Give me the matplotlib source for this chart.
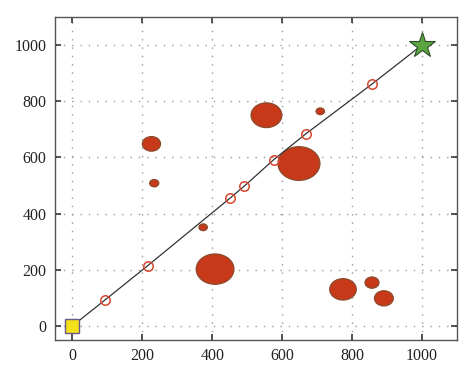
import matplotlib
matplotlib.use('Agg')
import matplotlib.pyplot as plt
from matplotlib.patches import Circle

plt.rcParams['font.family'] = ['Liberation Serif', 'DejaVu Serif']

# obstacles: centre x, centre y, radius (data units)
obs_x = [226, 234, 555, 709, 648, 374, 408, 774, 857, 891]
obs_y = [648, 508, 750, 764, 578, 351, 202, 130, 154, 98]
obs_r = [26, 13, 44, 12, 60, 12, 54, 38, 20, 27]

# planned path (start, waypoints, goal)
path_x = [0, 93, 215, 452, 492, 576, 668, 856, 1000]
path_y = [0, 92, 214, 456, 498, 592, 684, 860, 1000]

ticks = [0, 200, 400, 600, 800, 1000]

fig = plt.figure(figsize=(4.74, 3.76), dpi=100)
ax = fig.add_axes([0.116, 0.096, 0.848, 0.859])

ax.grid(True, color='#999999', linestyle=(0, (1, 5)), linewidth=1.0)
ax.set_axisbelow(True)

for x, y, r in zip(obs_x, obs_y, obs_r):
    ax.add_patch(Circle((x, y), r, facecolor='#c8391a', edgecolor='#8a4a2c',
                        linewidth=0.9, zorder=3))

ax.plot(path_x, path_y, color='#333333', linewidth=0.9, zorder=4)
ax.plot(path_x[1:-1], path_y[1:-1], linestyle='none', marker='o', markersize=6.8,
        markerfacecolor='none', markeredgecolor='#d9462e', markeredgewidth=1.1, zorder=5)
ax.plot(path_x[0], path_y[0], linestyle='none', marker='s', markersize=10,
        markerfacecolor='#f5e11a', markeredgecolor='#6a5a8a', markeredgewidth=1.0, zorder=6)
ax.plot(path_x[-1], path_y[-1], linestyle='none', marker='*', markersize=19,
        markerfacecolor='#5aa540', markeredgecolor='#2f4a2a', markeredgewidth=0.8, zorder=6)

ax.set_xlim(-50, 1100)
ax.set_ylim(-50, 1100)
ax.set_xticks(ticks)
ax.set_yticks(ticks)
ax.tick_params(direction='in', top=True, right=True, length=4, width=1.2,
               colors='#333333', labelsize=11.5, labelcolor='#222222', pad=6)
for spine in ax.spines.values():
    spine.set_color('#555555')
    spine.set_linewidth(1.0)

fig.savefig('out.png', dpi=100)
